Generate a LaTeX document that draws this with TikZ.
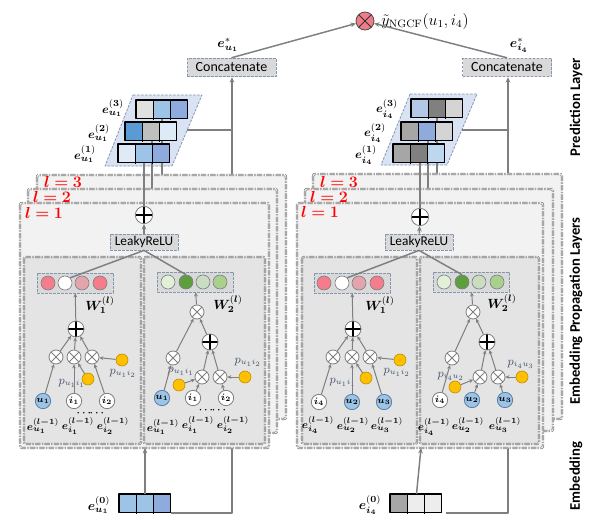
\documentclass[tikz,border=0pt]{standalone}
\usepackage[no-math]{fontspec}
\newfontfamily\carl{Carlito}
\usepackage{amsmath,bm}
\usetikzlibrary{arrows.meta,calc}
\definecolor{linegray}{HTML}{7F7F7F}
\definecolor{framegray}{HTML}{808080}
\definecolor{framefill}{HTML}{F2F2F2}
\definecolor{panelfill}{HTML}{E4E4E4}
\definecolor{boxgray}{HTML}{D9D9D9}
\definecolor{boxblue}{HTML}{8497B0}
\definecolor{parfill}{HTML}{DAE3F3}
\definecolor{pinkA}{HTML}{F47C8C}
\definecolor{pinkB}{HTML}{E4A4AE}
\definecolor{greenA}{HTML}{E2F0D9}
\definecolor{greenB}{HTML}{5E9E3E}
\definecolor{greenC}{HTML}{CADDC2}
\definecolor{greenD}{HTML}{A9D18E}
\definecolor{yel}{HTML}{FFC000}
\definecolor{yelb}{HTML}{BF9000}
\definecolor{nblue}{HTML}{9DC3E6}
\definecolor{nblueb}{HTML}{5B80A8}
\definecolor{plab}{HTML}{44546A}
\definecolor{topPink}{HTML}{F07C88}
\definecolor{cBa}{HTML}{DEEBF7}
\definecolor{cBb}{HTML}{9DC3E6}
\definecolor{cBc}{HTML}{8FAADC}
\definecolor{cBd}{HTML}{5B9BD5}
\definecolor{cBe}{HTML}{B4C7E7}
\definecolor{cBf}{HTML}{BDD7EE}
\definecolor{cGa}{HTML}{E0E0E0}
\definecolor{cGb}{HTML}{BFBFBF}
\definecolor{cGc}{HTML}{A6A6A6}
\definecolor{cGd}{HTML}{808080}
\definecolor{cGe}{HTML}{D4D4D4}
\definecolor{cGf}{HTML}{EDEDED}
\newcommand\Elab[1]{$\bm{e}^{(\bm{l}\bm{-}\mathbf{1})}_{#1}$}
\newcommand\bu[1]{\bm{u}_{\mathbf{#1}}}
\newcommand\bi[1]{\bm{i}_{\mathbf{#1}}}
\newcommand\cellrow[5]{%
 \fill[#3] (#1,#2) rectangle ++(17.3,18.5);
 \fill[#4] (#1+17.3,#2) rectangle ++(17.3,18.5);
 \fill[#5] (#1+34.6,#2) rectangle ++(17.3,18.5);
 \draw[black, line width=0.8pt] (#1,#2) rectangle ++(51.9,18.5) (#1+17.3,#2-1) -- ++(0,20.5) (#1+34.6,#2-1) -- ++(0,20.5);}
\tikzset{
 conn/.style={draw=linegray, line width=1.1pt},
 thin conn/.style={draw=linegray, line width=0.75pt},
 arr/.style={conn, -{Stealth[length=4pt,width=3.5pt]}},
 sarr/.style={thin conn, -{Stealth[length=3pt,width=2.8pt]}},
 frm/.style={draw=framegray, line width=0.55pt, double=framefill, double distance=0.7pt, dash pattern=on 4pt off 1pt on 1pt off 1pt, rounded corners=1.5pt},
 pnl/.style={draw=framegray, line width=0.5pt, double=panelfill, double distance=0.6pt, dash pattern=on 4pt off 1pt on 1pt off 1pt, rounded corners=1pt, fill=panelfill},
 boxd/.style={draw=boxblue, fill=boxgray, line width=0.6pt, dash pattern=on 2pt off 1pt, inner sep=0pt, font=\carl\fontsize{10.5}{12}\selectfont},
 wbox/.style={draw=boxblue, fill=boxgray, line width=0.6pt, dash pattern=on 2pt off 1pt, inner sep=0pt, minimum width=57pt, minimum height=15pt},
 wc/.style={circle, draw=linegray, line width=0.5pt, inner sep=0pt, minimum size=10.5pt},
 otimes/.style={circle, draw=linegray, fill=white, line width=0.6pt, inner sep=0pt, minimum size=10.5pt,
   path picture={\draw[linegray, line width=0.6pt] (path picture bounding box.north west)--(path picture bounding box.south east) (path picture bounding box.north east)--(path picture bounding box.south west);}},
 oplus/.style={circle, draw=linegray, fill=white, line width=0.6pt, inner sep=0pt, minimum size=12pt,
   path picture={\draw[black, line width=0.8pt] (path picture bounding box.north)--(path picture bounding box.south) (path picture bounding box.west)--(path picture bounding box.east);}},
 yc/.style={circle, draw=yelb, fill=yel, line width=0.5pt, inner sep=0pt, minimum size=9pt},
 nb/.style={circle, draw=nblueb, fill=nblue, line width=0.6pt, inner sep=0pt, minimum size=11.5pt, font=\fontsize{7.5}{8}\selectfont},
 nw/.style={circle, draw=linegray, fill=white, line width=0.6pt, inner sep=0pt, minimum size=11.5pt, font=\fontsize{7.5}{8}\selectfont},
 el/.style={inner sep=0pt, font=\fontsize{8.5}{9}\selectfont},
 pl/.style={inner sep=0pt, text=plab, font=\fontsize{9}{10}\selectfont},
 wl/.style={inner sep=0pt, font=\fontsize{10}{11}\selectfont},
 ml/.style={inner sep=0pt, font=\fontsize{9.5}{10}\selectfont},
 rl/.style={inner sep=0pt, text=red, font=\fontsize{12}{13}\selectfont},
 side/.style={inner sep=0pt, rotate=90, font=\carl\bfseries\fontsize{11}{12}\selectfont},
 dotsl/.style={inner sep=0pt, font=\fontsize{7}{8}\selectfont},
 par/.style={draw=boxblue, fill=parfill, line width=0.6pt, dash pattern=on 2pt off 1pt},
}
\begin{document}
\begin{tikzpicture}[x=0.75pt,y=-0.75pt,line join=round]
\useasboundingbox (0,0) rectangle (600,522);

% ---------- top prediction ----------
\node[circle, draw=black!70, fill=topPink, line width=0.6pt, inner sep=0pt, minimum size=13.5pt,
  path picture={\draw[black!80, line width=0.7pt] (path picture bounding box.north west)--(path picture bounding box.south east) (path picture bounding box.north east)--(path picture bounding box.south west);}] (yt) at (365,21) {};
\node[anchor=west, inner sep=0pt, font=\fontsize{12}{13}\selectfont] (ytl) at (381,21) {$\tilde{y}_{\mathrm{NGCF}}(u_1, i_4)$};
\node[boxd, minimum width=66.75pt, minimum height=14pt] (cL) at (231.5,67.5) {Concatenate};
\node[boxd, minimum width=66.75pt, minimum height=14pt] (cR) at (507,67.5) {Concatenate};
\node[inner sep=0pt, font=\fontsize{10}{11}\selectfont] (esL) at (228,45) {$\bm{e}^{*}_{\bu1}$};
\node[inner sep=0pt, font=\fontsize{10}{11}\selectfont] (esR) at (519,45) {$\bm{e}^{*}_{\bi4}$};
\draw[arr] (cL.north) -- (yt);
\draw[arr] (cR.north) -- (yt);

% side labels
\node[side] (sl1) at (576,107) {Prediction Layer};
\node[side] (sl2) at (576,311) {Embedding Propagation Layers};
\node[side] (sl3) at (576,476) {Embedding};

% ---------- e(0) boxes ----------
\node[inner sep=0pt, minimum width=39pt, minimum height=17pt] (e0L) at (145,505.5) {};
\node[inner sep=0pt, minimum width=44pt, minimum height=17pt] (e0R) at (416.5,505.5) {};
\cellrow{119}{494}{cBb}{cBb}{cBc}
\cellrow{390}{494}{cGc}{cGf}{cGf}
\node[inner sep=0pt, font=\fontsize{10}{11}\selectfont] (e0Ll) at (99,505) {$\bm{e}^{(\mathbf{0})}_{\bu1}$};
\node[inner sep=0pt, font=\fontsize{10}{11}\selectfont] (e0Rl) at (370,505) {$\bm{e}^{(\mathbf{0})}_{\bi4}$};

\coordinate (kL1) at (232,513);
\coordinate (kR1) at (508,513);
\draw[arr] (e0L.east |- kL1) -- (kL1) -- (cL.south -| kL1);
\draw[arr] (e0R.east |- kR1) -- (kR1) -- (cR.south -| kR1);

% ---------- parallelograms ----------
\path[par] (133,95) -- (202,95) -- (172,166) -- (105,166) -- cycle;
\path[par] (410,94) -- (477,94) -- (447,165) -- (381,165) -- cycle;
\coordinate (pL2) at (187,130);
\coordinate (pR2) at (462,130);
\draw[conn] (pL2) -- (232,130);
\draw[conn] (pR2) -- (508,130);

% lines from l=3
\coordinate (l3L) at (162,118);
\coordinate (l3R) at (437,117);
\draw[conn] (162,185) -- (l3L);
\draw[conn] (437,185) -- (l3R);
% l=3 frames
\draw[frm, fill=framefill] (37,175) rectangle (286,419);
\draw[frm, fill=framefill] (313,174) rectangle (562,419);
% lines from l=2
\coordinate (l2L) at (152,141);
\coordinate (l2R) at (428,140);
\draw[conn] (152,200) -- (l2L);
\draw[conn] (428,200) -- (l2R);
% l=2 frames
\draw[frm, fill=framefill] (28,189) rectangle (277,433);
\draw[frm, fill=framefill] (305,189) rectangle (553,431);
% l=1 frames
\draw[frm, fill=framefill] (20,203) rectangle (269,448);
\draw[frm, fill=framefill] (297,203) rectangle (543,448);
% inner panels
\draw[pnl] (24,257) rectangle (141,444);
\draw[pnl] (144,257) rectangle (265,444);
\draw[pnl] (302,257) rectangle (417,444);
\draw[pnl] (420,257) rectangle (539,444);

% red layer labels
\node[rl] (rL3) at (63,182) {$\bm{l=3}$};
\node[rl] (rL2) at (52,197) {$\bm{l=2}$};
\node[rl] (rL1) at (44,213) {$\bm{l=1}$};
\node[rl] (rR3) at (339,182) {$\bm{l=3}$};
\node[rl] (rR2) at (329,197) {$\bm{l=2}$};
\node[rl] (rR1) at (320,212) {$\bm{l=1}$};

% embedding input arrows
\draw[arr] (e0L.north) -- (145,448);
\draw[arr] (e0R.north) -- (421,448);

% ---------- LEFT l=1 ----------
\node[oplus, minimum size=13pt] (plL) at (144,215) {};
\node[boxd, minimum width=51pt, minimum height=12pt, font=\carl\fontsize{10}{11}\selectfont] (lrL) at (144,242) {LeakyReLU};
\draw[arr] (lrL) -- (plL);
\coordinate (l1L) at (144,162);
\draw[conn] (plL) -- (l1L);

\node[wbox] (w1L) at (75,283) {};
\foreach \xx/\cc [count=\k] in {48/pinkA,65/white,82/pinkB,100/pinkA} \node[wc, fill=\cc] (w1L\k) at (\xx,283) {};
\node[wbox] (w2L) at (195,282) {};
\foreach \xx/\cc [count=\k] in {168/greenA,186/greenB,203/greenC,220/greenD} \node[wc, fill=\cc] (w2L\k) at (\xx,282) {};
\draw[conn] (w1L2.north east) -- (lrL.south);
\draw[conn] (w2L2.north) -- (lrL.south);
\node[wl] (wl1L) at (100,305) {$\bm{W}^{(\bm{l})}_{\mathbf{1}}$};
\node[wl] (wl2L) at (228,304) {$\bm{W}^{(\bm{l})}_{\mathbf{2}}$};

% panel A (left)
\node[pl] (aPl1) at (72,383) {$p_{u_1i_1}$};
\node[pl] (aPl2) at (123,373) {$p_{u_1i_2}$};
\node[oplus] (aP) at (76,329) {};
\node[otimes] (aX1) at (56,357) {};
\node[otimes] (aX2) at (74,357) {};
\node[otimes] (aX3) at (92,357) {};
\node[yc] (aY1) at (88,379) {};
\node[yc] (aY2) at (122,360) {};
\node[nb] (aU) at (43,401) {$\bu1$};
\node[nw] (aI1) at (74,401) {$\bi1$};
\node[nw] (aI2) at (107,401) {$\bi2$};
\node[dotsl] (aD1) at (85,413) {$\bm{\cdots}$};
\node[dotsl] (aD2) at (98,413) {$\bm{\cdots}$};
\node[el] (aE1) at (43,426) {\Elab{\bu1}};
\node[el] (aE2) at (78,426) {\Elab{\bi1}};
\node[el] (aE3) at (113,426) {\Elab{\bi2}};
\draw[sarr] (aU) -- (aX1);
\draw[sarr] (aI1) -- (aX2);
\draw[sarr] (aI2) -- (aX3);
\draw[sarr] (aY1) -- (aX2);
\draw[sarr] (aY2) -- (aX3);
\draw[sarr] (aX1) -- (aP);
\draw[sarr] (aX2) -- (aP);
\draw[sarr] (aX3) -- (aP);
\draw[sarr] (aP) -- (w1L);

% panel B (left)
\node[pl] (bPl1) at (181,371) {$p_{u_1i_1}$};
\node[pl] (bPl2) at (248,362) {$p_{u_1i_2}$};
\node[otimes] (bT) at (197,312) {};
\node[oplus] (bP) at (210,342) {};
\node[otimes] (bL) at (173,358) {};
\node[otimes] (bX1) at (202,377) {};
\node[otimes] (bX2) at (220,377) {};
\node[yc] (bY1) at (179,385) {};
\node[yc] (bY2) at (245,377) {};
\node[nb] (bU) at (162,398) {$\bu1$};
\node[nw] (bI1) at (193,398) {$\bi1$};
\node[nw] (bI2) at (226,398) {$\bi2$};
\node[dotsl] (bD1) at (207,410) {$\bm{\cdots}$};
\node[dotsl] (bD2) at (220,410) {$\bm{\cdots}$};
\node[el] (bE1) at (163,427) {\Elab{\bu1}};
\node[el] (bE2) at (198,425) {\Elab{\bi1}};
\node[el] (bE3) at (233,425) {\Elab{\bi2}};
\draw[sarr] (bU) -- (bL);
\draw[sarr] (bL) -- (bT);
\draw[sarr] (bI1) -- (bX1);
\draw[sarr] (bI2) -- (bX2);
\draw[sarr] (bY1) -- (bX1);
\draw[sarr] (bY2) -- (bX2);
\draw[sarr] (bX1) -- (bP);
\draw[sarr] (bX2) -- (bP);
\draw[sarr] (bP) -- (bT);
\draw[sarr] (bT) -- (w2L);

% ---------- RIGHT l=1 ----------
\node[oplus, minimum size=13pt] (plR) at (420,217) {};
\node[boxd, minimum width=51pt, minimum height=12pt, font=\carl\fontsize{10}{11}\selectfont] (lrR) at (419,242) {LeakyReLU};
\draw[arr] (lrR) -- (plR);
\coordinate (l1R) at (420,162);
\draw[conn] (plR) -- (l1R);

\node[wbox] (w1R) at (352,283) {};
\foreach \xx/\cc [count=\k] in {324/pinkA,342/white,359/pinkB,377/pinkA} \node[wc, fill=\cc] (w1R\k) at (\xx,283) {};
\node[wbox] (w2R) at (471,282) {};
\foreach \xx/\cc [count=\k] in {444/greenA,462/greenB,479/greenC,497/greenD} \node[wc, fill=\cc] (w2R\k) at (\xx,282) {};
\draw[conn] (w1R2.north east) -- (lrR.south);
\draw[conn] (w2R2.north) -- (lrR.south);
\node[wl] (wl1R) at (380,305) {$\bm{W}^{(\bm{l})}_{\mathbf{1}}$};
\node[wl] (wl2R) at (502,303) {$\bm{W}^{(\bm{l})}_{\mathbf{2}}$};

% panel C (right)
\node[pl] (cPl1) at (343,382) {$p_{u_1i_1}$};
\node[pl] (cPl2) at (397,372) {$p_{u_1i_2}$};
\node[oplus] (cP) at (353,329) {};
\node[otimes] (cX1) at (333,357) {};
\node[otimes] (cX2) at (352,357) {};
\node[otimes] (cX3) at (370,357) {};
\node[yc] (cY1) at (366,378) {};
\node[yc] (cY2) at (400,360) {};
\node[nw] (cI) at (319,402) {$\bi4$};
\node[nb] (cU2) at (352,402) {$\bu2$};
\node[nb] (cU3) at (384,402) {$\bu3$};
\node[el] (cE1) at (318,425) {\Elab{\bi4}};
\node[el] (cE2) at (353,425) {\Elab{\bu2}};
\node[el] (cE3) at (387,425) {\Elab{\bu3}};
\draw[sarr] (cI) -- (cX1);
\draw[sarr] (cU2) -- (cX2);
\draw[sarr] (cU3) -- (cX3);
\draw[sarr] (cY1) -- (cX2);
\draw[sarr] (cY2) -- (cX3);
\draw[sarr] (cX1) -- (cP);
\draw[sarr] (cX2) -- (cP);
\draw[sarr] (cX3) -- (cP);
\draw[sarr] (cP) -- (w1R);

% panel D (right)
\node[pl] (dPl1) at (451,376) {$p_{i_4u_2}$};
\node[pl] (dPl2) at (521,364) {$p_{i_4u_3}$};
\node[otimes] (dT) at (473,312) {};
\node[oplus] (dP) at (487,342) {};
\node[otimes] (dL) at (452,358) {};
\node[otimes] (dX1) at (480,377) {};
\node[otimes] (dX2) at (498,377) {};
\node[yc] (dY1) at (455,387) {};
\node[yc] (dY2) at (522,377) {};
\node[nw] (dI) at (440,400) {$\bi4$};
\node[nb] (dU2) at (472,400) {$\bu2$};
\node[nb] (dU3) at (505,400) {$\bu3$};
\node[el] (dE1) at (434,427) {\Elab{\bi4}};
\node[el] (dE2) at (468,425) {\Elab{\bu2}};
\node[el] (dE3) at (505,425) {\Elab{\bu3}};
\draw[sarr] (dI) -- (dL);
\draw[sarr] (dL) -- (dT);
\draw[sarr] (dU2) -- (dX1);
\draw[sarr] (dU3) -- (dX2);
\draw[sarr] (dY1) -- (dX1);
\draw[sarr] (dY2) -- (dX2);
\draw[sarr] (dX1) -- (dP);
\draw[sarr] (dX2) -- (dP);
\draw[sarr] (dP) -- (dT);
\draw[sarr] (dT) -- (w2R);

% ---------- embedding rows (on top of lines) ----------
\cellrow{136}{100}{cGa}{cBb}{cBc}
\cellrow{125}{122}{cBd}{cGb}{cBa}
\cellrow{118}{144}{cBa}{cBb}{cBc}
\cellrow{411}{99}{cBe}{cGd}{cGe}
\cellrow{401}{122}{cGc}{cBc}{cGe}
\cellrow{393}{144}{cGc}{cGd}{cBf}
\node[ml] (m3L) at (113,108) {$\bm{e}^{(\mathbf{3})}_{\bu1}$};
\node[ml] (m2L) at (99,133) {$\bm{e}^{(\mathbf{2})}_{\bu1}$};
\node[ml] (m1L) at (85,154) {$\bm{e}^{(\mathbf{1})}_{\bu1}$};
\node[ml] (m3R) at (387,109) {$\bm{e}^{(\mathbf{3})}_{\bi4}$};
\node[ml] (m2R) at (375,133) {$\bm{e}^{(\mathbf{2})}_{\bi4}$};
\node[ml] (m1R) at (366,155) {$\bm{e}^{(\mathbf{1})}_{\bi4}$};
\end{tikzpicture}
\end{document}
